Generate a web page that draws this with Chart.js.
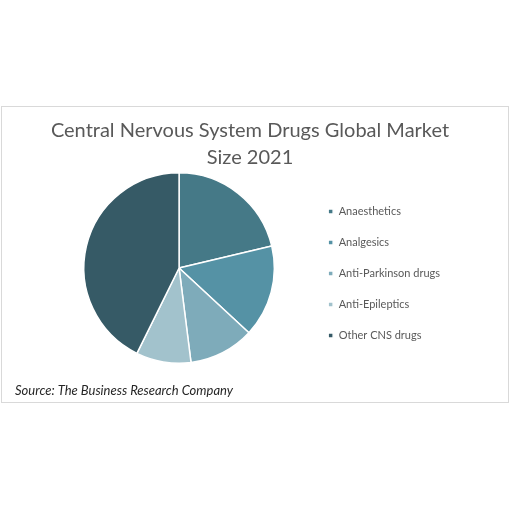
<!DOCTYPE html>
<html>
<head>
<meta charset="utf-8">
<script src="https://cdn.jsdelivr.net/npm/chart.js@4/dist/chart.umd.min.js"></script>
<style>
  html, body { margin: 0; padding: 0; background: #fff; }
  #frame {
    position: absolute; left: 1px; top: 106px; width: 506px; height: 295px;
    border: 1px solid #d9d9d9;
  }
  #wrap { position: absolute; left: 0; top: 0; width: 510px; height: 510px; }
</style>
</head>
<body>
<div id="frame"></div>
<div id="wrap"><canvas id="grafico" width="510" height="510"></canvas></div>
<script>
// dados do gráfico (% estimado a partir da imagem)
const categorias = ["Anaesthetics", "Analgesics", "Anti-Parkinson drugs", "Anti-Epileptics", "Other CNS drugs"];
const valores = [21.3, 15.6, 11.1, 9.3, 42.7];
const cores = ["#457987", "#5592a5", "#7eabba", "#a2c2cc", "#365a66"];
const titulo = ["Central Nervous System Drugs Global Market", "Size 2021"];
const fonte = "Source: The Business Research Company";

// texto da fonte no canto inferior esquerdo
const pluginFonte = {
    id: 'fonte',
    afterDraw(chart) {
        const ctx = chart.ctx;
        ctx.save();
        ctx.font = "italic 13px Lato";
        ctx.fillStyle = "#262626";
        ctx.textBaseline = "middle";
        ctx.fillText(fonte, 15, 391);
        ctx.restore();
    }
};

new Chart(document.getElementById('grafico'), {
    type: 'pie',
    data: {
        labels: categorias,
        datasets: [{
            data: valores,
            backgroundColor: cores,
            borderColor: '#ffffff',
            borderWidth: 1.5
        }]
    },
    options: {
        responsive: false,
        animation: false,
        layout: {
            padding: { top: 111, left: 50, right: 60, bottom: 146 }
        },
        plugins: {
            title: {
                display: true,
                text: titulo,
                color: '#595959',
                font: { family: 'Lato', size: 20, weight: 'normal', lineHeight: 1.35 },
                padding: { top: 6.5, bottom: 0.5 }
            },
            legend: {
                position: 'right',
                align: 'center',
                // título vazio só para descer a legenda até o meio da pizza
                title: {
                    display: true,
                    text: '',
                    font: { size: 11, lineHeight: 1.2 },
                    padding: { top: 59, bottom: 0 }
                },
                labels: {
                    color: '#595959',
                    font: { family: 'Lato', size: 11 },
                    boxWidth: 5,
                    boxHeight: 5,
                    padding: 20
                }
            },
            tooltip: { enabled: false }
        }
    },
    plugins: [pluginFonte]
});
</script>
</body>
</html>
